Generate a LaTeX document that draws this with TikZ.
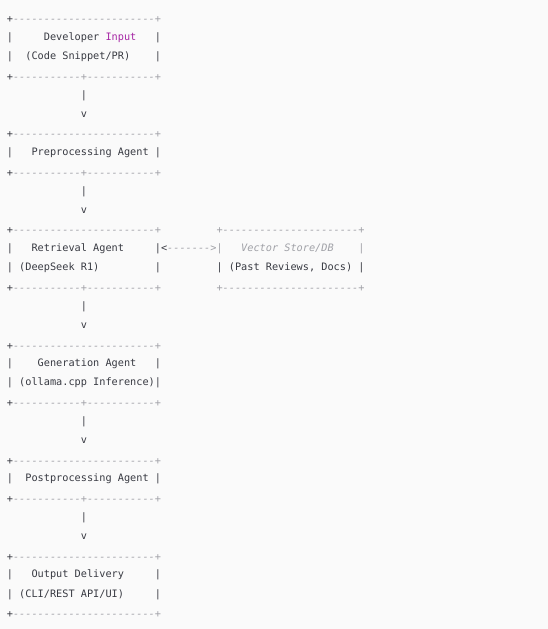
\documentclass[tikz,border=0pt]{standalone}
\usepackage{fontspec}
\setmonofont{DejaVu Sans Mono}
\definecolor{bgc}{HTML}{FAFAFA}
\definecolor{txc}{HTML}{383A42}
\definecolor{cmc}{HTML}{A0A1A7}
\definecolor{kwc}{HTML}{A626A4}
\tikzset{
  glyph/.style={anchor=base west, inner sep=0pt, outer sep=0pt,
    font=\ttfamily\fontsize{10.243pt}{12pt}\selectfont},
  plain/.style={glyph, text=txc},
  cmt/.style={glyph, text=cmc, font=\ttfamily\itshape\fontsize{10.243pt}{12pt}\selectfont},
  kw/.style={glyph, text=kwc},
  rule/.style={yshift=-1.5pt},
}
\newcommand\ch[4]{\node[#3] (r#2c#1) at ({6.9pt+#1*6.167pt},{-21.3pt-(#2-1)*19.19pt}) {#4};}
\newcommand\boxtop[1]{\ch{0}{#1}{plain,rule}{+}\ch{1}{#1}{cmt,rule}{-----------------------+}}
\newcommand\boxbot[1]{\ch{0}{#1}{plain,rule}{+}\ch{1}{#1}{cmt,rule}{-----------+-----------+}}
\newcommand\link[1]{\ch{12}{#1}{plain}{|}\ch{12}{\the\numexpr#1+1\relax}{plain}{v}}
\newcommand\sides[1]{\ch{0}{#1}{plain}{|}\ch{24}{#1}{plain}{|}}
\begin{document}
\begin{tikzpicture}
\useasboundingbox (0,0) rectangle (548pt,-629pt);
\fill[bgc] (0,0) rectangle (548pt,-629pt);
% Developer input
\boxtop{1}
\sides{2}\ch{6}{2}{plain}{Developer}\ch{16}{2}{kw}{Input}
\sides{3}\ch{3}{3}{plain}{(Code~Snippet/PR)}
\boxbot{4}
\link{5}
% Preprocessing
\boxtop{7}
\sides{8}\ch{4}{8}{plain}{Preprocessing~Agent}
\boxbot{9}
\link{10}
% Retrieval + vector store
\boxtop{12}\ch{34}{12}{cmt,rule}{+----------------------+}
\sides{13}\ch{4}{13}{plain}{Retrieval~Agent}
\ch{25}{13}{plain}{<}\ch{26}{13}{cmt}{------->|~~~Vector~Store/DB~~~~|}
\sides{14}\ch{2}{14}{plain}{(DeepSeek~R1)}
\ch{34}{14}{plain}{|}\ch{36}{14}{plain}{(Past~Reviews,~Docs)}\ch{57}{14}{plain}{|}
\boxbot{15}\ch{34}{15}{cmt,rule}{+----------------------+}
\link{16}
% Generation
\boxtop{18}
\sides{19}\ch{5}{19}{plain}{Generation~Agent}
\sides{20}\ch{2}{20}{plain}{(ollama.cpp~Inference)}
\boxbot{21}
\link{22}
% Postprocessing
\boxtop{24}
\sides{25}\ch{3}{25}{plain}{Postprocessing~Agent}
\boxbot{26}
\link{27}
% Output
\boxtop{29}
\sides{30}\ch{4}{30}{plain}{Output~Delivery}
\sides{31}\ch{2}{31}{plain}{(CLI/REST~API/UI)}
\boxtop{32}
\end{tikzpicture}
\end{document}
